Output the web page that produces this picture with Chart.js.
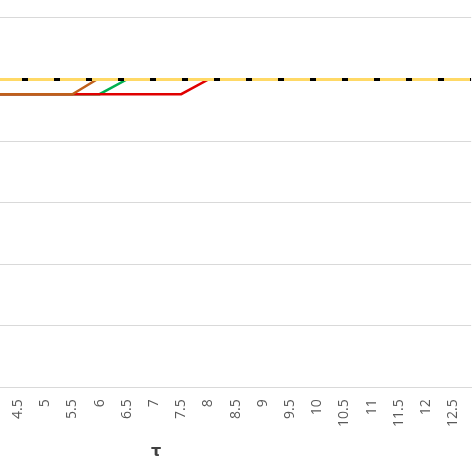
<!DOCTYPE html>
<html>
<head>
<script src="https://cdn.jsdelivr.net/npm/chart.js@4"></script>
<style>html,body{margin:0;padding:0;background:#fff}</style>
</head>
<body>
<div style="width:474px;height:474px"><canvas id="myChart"></canvas></div>
<script>
const xMin = 4.17, xMax = 12.83;
const brownX = [4.17, 5.5, 5.95, 12.83];
const brownY = [4.76, 4.76, 5, 5];
const greenX = [4.17, 6.0, 6.5, 12.83];
const greenY = [4.76, 4.76, 5, 5];
const redX = [4.17, 7.5, 8.0, 12.83];
const redY = [4.76, 4.76, 5, 5];
const refX = [4.17, 12.83];
const refY = [5, 5];

const pts = (xs, ys) => xs.map((x, i) => ({ x: x, y: ys[i] }));

const titlePlugin = {
  id: 'tauTitle',
  afterDraw(chart) {
    const c = chart.ctx;
    c.save();
    c.font = 'bold 16px "DejaVu Sans"';
    c.fillStyle = '#404040';
    c.textAlign = 'center';
    c.fillText('τ', 156, 456);
    c.restore();
  }
};

const ctx = document.getElementById('myChart').getContext('2d');
new Chart(ctx, {
  type: 'line',
  data: {
    datasets: [
      { data: pts(refX, refY), borderColor: 'black', borderWidth: 3, borderDash: [6, 26], borderDashOffset: 10, pointRadius: 0, order: 0 },
      { data: pts(refX, refY), borderColor: '#FFD966', borderWidth: 3, pointRadius: 0, order: 1 },
      { data: pts(brownX, brownY), borderColor: '#C0601A', borderWidth: 2.5, pointRadius: 0, order: 2 },
      { data: pts(redX, redY), borderColor: '#E00000', borderWidth: 2.5, pointRadius: 0, order: 3 },
      { data: pts(greenX, greenY), borderColor: '#00B050', borderWidth: 2.5, pointRadius: 0, order: 4 }
    ]
  },
  options: {
    responsive: true,
    maintainAspectRatio: false,
    animation: false,
    layout: { padding: { left: 0, right: 0, top: 0, bottom: 43 } },
    plugins: { legend: { display: false }, tooltip: { enabled: false } },
    scales: {
      x: {
        type: 'linear',
        min: xMin,
        max: xMax,
        afterBuildTicks: (ax) => {
          const t = [];
          for (let v = 4.5; v <= 12.5; v += 0.5) t.push({ value: v });
          ax.ticks = t;
        },
        ticks: { maxRotation: 90, minRotation: 90, color: '#595959', font: { size: 14, family: 'Open Sans' }, padding: 4, callback: (v) => String(v) },
        grid: { display: false },
        border: { color: '#d9d9d9' }
      },
      y: {
        display: true,
        min: 0,
        max: 6.29,
        afterBuildTicks: (ax) => { ax.ticks = [0, 1, 2, 3, 4, 5, 6].map(v => ({ value: v })); },
        ticks: { display: false },
        grid: { color: '#d9d9d9', drawTicks: false },
        border: { display: false }
      }
    }
  },
  plugins: [titlePlugin]
});
</script>
</body>
</html>
